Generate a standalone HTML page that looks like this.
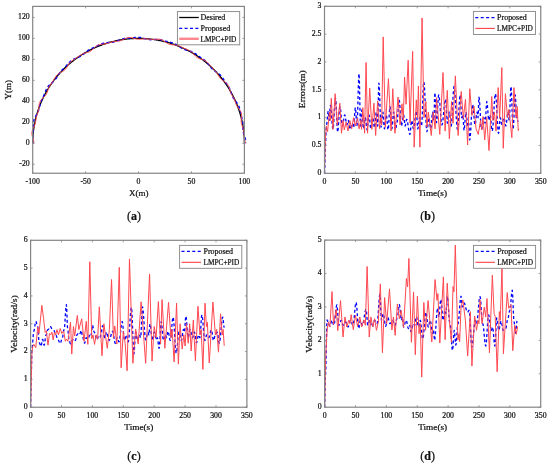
<!DOCTYPE html>
<html><head><meta charset="utf-8"><style>
html,body{margin:0;padding:0;background:#fff;}
svg{display:block;}
text{font-family:"Liberation Serif", "DejaVu Serif", serif;fill:#111;stroke:#111;stroke-width:0.22px;}
</style></head><body>
<svg width="550" height="467" viewBox="0 0 550 467">
<path d="M32.7,143.3 32.7,142.38 32.72,141.47 32.74,140.55 32.76,139.64 32.8,138.72 32.85,137.81 32.9,136.9 32.96,135.98 33.03,135.07 33.1,134.16 33.19,133.25 33.28,132.33 33.38,131.42 33.49,130.52 33.61,129.61 33.73,128.7 33.86,127.79 34,126.89 34.15,125.99 34.31,125.08 34.47,124.18 34.64,123.28 34.82,122.39 35.01,121.49 35.21,120.59 35.41,119.7 35.62,118.81 35.84,117.92 36.07,117.03 36.31,116.15 36.55,115.27 36.8,114.38 37.06,113.51 37.33,112.63 37.6,111.75 37.88,110.88 38.17,110.01 38.47,109.15 38.77,108.28 39.08,107.42 39.4,106.56 39.73,105.71 40.07,104.85 40.41,104 40.76,103.15 41.11,102.31 41.48,101.47 41.85,100.63 42.23,99.8 42.62,98.97 43.01,98.14 43.41,97.31 43.82,96.49 44.24,95.67 44.66,94.86 45.09,94.05 45.53,93.24 45.97,92.44 46.42,91.64 46.88,90.85 47.35,90.06 47.82,89.27 48.3,88.49 48.78,87.71 49.28,86.93 49.78,86.16 50.28,85.4 50.8,84.64 51.32,83.88 51.84,83.13 52.38,82.38 52.92,81.64 53.46,80.9 54.01,80.17 54.57,79.44 55.14,78.71 55.71,78 56.29,77.28 56.87,76.57 57.46,75.87 58.06,75.17 58.66,74.48 59.27,73.79 59.89,73.11 60.51,72.43 61.14,71.76 61.77,71.09 62.41,70.43 63.05,69.77 63.7,69.12 64.36,68.48 65.02,67.84 65.69,67.21 66.36,66.58 67.04,65.96 67.72,65.34 68.41,64.73 69.11,64.13 69.81,63.53 70.51,62.94 71.22,62.35 71.94,61.77 72.66,61.2 73.38,60.63 74.11,60.07 74.85,59.52 75.59,58.97 76.33,58.43 77.08,57.9 77.84,57.37 78.6,56.85 79.36,56.33 80.13,55.82 80.9,55.32 81.68,54.82 82.46,54.34 83.24,53.85 84.03,53.38 84.83,52.91 85.62,52.45 86.43,52 87.23,51.55 88.04,51.11 88.86,50.68 89.67,50.25 90.5,49.83 91.32,49.42 92.15,49.01 92.98,48.61 93.82,48.22 94.65,47.84 95.5,47.47 96.34,47.1 97.19,46.74 98.04,46.38 98.9,46.03 99.76,45.7 100.62,45.36 101.48,45.04 102.35,44.72 103.22,44.41 104.09,44.11 104.96,43.82 105.84,43.53 106.72,43.25 107.6,42.98 108.49,42.72 109.37,42.46 110.26,42.21 111.15,41.97 112.05,41.74 112.94,41.51 113.84,41.29 114.74,41.08 115.64,40.88 116.54,40.69 117.45,40.5 118.35,40.32 119.26,40.15 120.17,39.99 121.08,39.83 121.99,39.69 122.9,39.55 123.82,39.42 124.73,39.29 125.65,39.18 126.57,39.07 127.49,38.97 128.4,38.88 129.32,38.79 130.25,38.72 131.17,38.65 132.09,38.59 133.01,38.54 133.93,38.5 134.86,38.46 135.78,38.43 136.7,38.41 137.63,38.4 138.55,38.4 139.47,38.4 140.4,38.41 141.32,38.43 142.24,38.46 143.17,38.5 144.09,38.54 145.01,38.59 145.93,38.65 146.85,38.72 147.78,38.79 148.7,38.88 149.61,38.97 150.53,39.07 151.45,39.18 152.37,39.29 153.28,39.42 154.2,39.55 155.11,39.69 156.02,39.83 156.93,39.99 157.84,40.15 158.75,40.32 159.65,40.5 160.56,40.69 161.46,40.88 162.36,41.08 163.26,41.29 164.16,41.51 165.05,41.74 165.95,41.97 166.84,42.21 167.73,42.46 168.61,42.72 169.5,42.98 170.38,43.25 171.26,43.53 172.14,43.82 173.01,44.11 173.88,44.41 174.75,44.72 175.62,45.04 176.48,45.36 177.34,45.7 178.2,46.03 179.06,46.38 179.91,46.74 180.76,47.1 181.6,47.47 182.45,47.84 183.28,48.22 184.12,48.61 184.95,49.01 185.78,49.42 186.6,49.83 187.43,50.25 188.24,50.68 189.06,51.11 189.87,51.55 190.67,52 191.47,52.45 192.27,52.91 193.07,53.38 193.86,53.85 194.64,54.34 195.42,54.82 196.2,55.32 196.97,55.82 197.74,56.33 198.5,56.85 199.26,57.37 200.02,57.9 200.77,58.43 201.51,58.97 202.25,59.52 202.99,60.07 203.72,60.63 204.44,61.2 205.16,61.77 205.88,62.35 206.59,62.94 207.29,63.53 207.99,64.13 208.69,64.73 209.38,65.34 210.06,65.96 210.74,66.58 211.41,67.21 212.08,67.84 212.74,68.48 213.4,69.12 214.05,69.77 214.69,70.43 215.33,71.09 215.96,71.76 216.59,72.43 217.21,73.11 217.83,73.79 218.44,74.48 219.04,75.17 219.64,75.87 220.23,76.57 220.81,77.28 221.39,78 221.96,78.71 222.53,79.44 223.09,80.17 223.64,80.9 224.18,81.64 224.72,82.38 225.26,83.13 225.78,83.88 226.3,84.64 226.82,85.4 227.32,86.16 227.82,86.93 228.32,87.71 228.8,88.49 229.28,89.27 229.75,90.06 230.22,90.85 230.68,91.64 231.13,92.44 231.57,93.24 232.01,94.05 232.44,94.86 232.86,95.67 233.28,96.49 233.69,97.31 234.09,98.14 234.48,98.97 234.87,99.8 235.25,100.63 235.62,101.47 235.99,102.31 236.34,103.15 236.69,104 237.03,104.85 237.37,105.71 237.7,106.56 238.02,107.42 238.33,108.28 238.63,109.15 238.93,110.01 239.22,110.88 239.5,111.75 239.77,112.63 240.04,113.51 240.3,114.38 240.55,115.27 240.79,116.15 241.03,117.03 241.26,117.92 241.48,118.81 241.69,119.7 241.89,120.59 242.09,121.49 242.28,122.39 242.46,123.28 242.63,124.18 242.79,125.08 242.95,125.99 243.1,126.89 243.24,127.79 243.37,128.7 243.49,129.61 243.61,130.52 243.72,131.42 243.82,132.33 243.91,133.25 244,134.16 244.07,135.07 244.14,135.98 244.2,136.9 244.25,137.81 244.3,138.72 244.34,139.64 244.36,140.55 244.38,141.47 244.4,142.38 244.4,143.3" stroke="#000" stroke-width="1.3" fill="none" stroke-linejoin="round"/>
<path d="M33.15,143.3 33.07,142.39 32.97,141.47 32.86,140.56 32.76,139.64 32.68,138.72 32.63,137.8 32.61,136.88 32.63,135.96 32.68,135.04 32.76,134.13 32.86,133.21 32.96,132.3 33.07,131.39 33.16,130.48 33.23,129.56 33.28,128.64 33.31,127.71 33.32,126.78 33.32,125.85 33.32,124.91 33.33,123.97 33.37,123.04 33.46,122.11 33.59,121.19 33.79,120.28 34.06,119.39 34.38,118.52 34.77,117.66 35.21,116.81 35.68,115.98 36.18,115.16 36.67,114.35 37.15,113.53 37.61,112.71 38.03,111.89 38.4,111.05 38.72,110.2 38.99,109.33 39.23,108.44 39.44,107.55 39.63,106.65 39.82,105.74 40.01,104.83 40.23,103.93 40.48,103.04 40.76,102.16 41.08,101.3 41.43,100.44 41.81,99.61 42.2,98.77 42.61,97.95 43.02,97.12 43.42,96.29 43.8,95.46 44.17,94.61 44.52,93.75 44.86,92.88 45.19,92.01 45.52,91.14 45.87,90.27 46.24,89.41 46.65,88.58 47.11,87.77 47.62,86.99 48.19,86.25 48.81,85.54 49.47,84.87 50.17,84.22 50.9,83.6 51.64,82.99 52.38,82.39 53.1,81.77 53.8,81.15 54.45,80.49 55.07,79.81 55.64,79.1 56.18,78.36 56.68,77.59 57.16,76.8 57.62,76 58.09,75.19 58.57,74.39 59.06,73.61 59.59,72.84 60.14,72.09 60.73,71.38 61.34,70.69 61.98,70.02 62.64,69.37 63.3,68.73 63.97,68.09 64.64,67.44 65.29,66.79 65.93,66.12 66.56,65.44 67.18,64.74 67.8,64.04 68.42,63.35 69.05,62.66 69.71,61.99 70.39,61.36 71.11,60.76 71.86,60.21 72.66,59.72 73.49,59.27 74.35,58.86 75.23,58.49 76.12,58.15 77.02,57.81 77.92,57.48 78.79,57.13 79.65,56.76 80.48,56.34 81.27,55.89 82.04,55.39 82.78,54.84 83.5,54.26 84.2,53.66 84.9,53.04 85.61,52.42 86.32,51.8 87.05,51.21 87.79,50.66 88.57,50.13 89.36,49.65 90.17,49.2 91,48.78 91.84,48.39 92.69,48.01 93.54,47.64 94.39,47.26 95.23,46.87 96.07,46.47 96.9,46.05 97.72,45.62 98.55,45.18 99.38,44.75 100.22,44.33 101.06,43.94 101.93,43.58 102.81,43.28 103.71,43.03 104.63,42.83 105.57,42.69 106.51,42.6 107.47,42.54 108.43,42.51 109.38,42.49 110.33,42.46 111.27,42.4 112.2,42.31 113.11,42.18 114.01,41.99 114.89,41.74 115.77,41.45 116.64,41.12 117.5,40.76 118.37,40.39 119.24,40.02 120.11,39.66 121,39.34 121.89,39.05 122.79,38.81 123.71,38.62 124.62,38.47 125.55,38.36 126.48,38.27 127.4,38.21 128.33,38.15 129.26,38.09 130.19,38.02 131.12,37.93 132.04,37.83 132.97,37.71 133.89,37.6 134.82,37.48 135.75,37.38 136.68,37.31 137.62,37.28 138.55,37.3 139.48,37.38 140.41,37.51 141.34,37.69 142.26,37.92 143.18,38.18 144.09,38.46 145,38.74 145.91,39.01 146.81,39.25 147.72,39.45 148.63,39.6 149.54,39.69 150.46,39.73 151.38,39.72 152.32,39.67 153.26,39.6 154.2,39.52 155.15,39.44 156.1,39.39 157.04,39.37 157.98,39.39 158.92,39.46 159.84,39.59 160.76,39.76 161.66,39.97 162.56,40.21 163.46,40.47 164.35,40.74 165.24,41 166.14,41.26 167.04,41.5 167.94,41.73 168.84,41.95 169.75,42.16 170.66,42.38 171.56,42.61 172.46,42.87 173.34,43.16 174.21,43.5 175.06,43.88 175.89,44.32 176.7,44.8 177.5,45.31 178.27,45.86 179.04,46.41 179.81,46.97 180.58,47.5 181.36,48.01 182.15,48.47 182.97,48.89 183.81,49.26 184.68,49.57 185.56,49.85 186.47,50.09 187.39,50.32 188.31,50.54 189.24,50.78 190.15,51.03 191.05,51.33 191.93,51.66 192.79,52.05 193.61,52.48 194.41,52.95 195.19,53.46 195.95,54 196.7,54.56 197.44,55.12 198.18,55.68 198.93,56.23 199.68,56.77 200.44,57.3 201.21,57.82 201.99,58.33 202.76,58.85 203.52,59.38 204.27,59.93 205,60.51 205.7,61.12 206.37,61.77 207,62.45 207.6,63.17 208.18,63.91 208.74,64.67 209.29,65.44 209.83,66.2 210.39,66.95 210.97,67.66 211.58,68.35 212.23,68.99 212.92,69.6 213.64,70.17 214.4,70.7 215.19,71.22 215.99,71.73 216.8,72.24 217.6,72.76 218.38,73.31 219.13,73.88 219.84,74.49 220.51,75.15 221.13,75.83 221.72,76.56 222.26,77.31 222.79,78.08 223.29,78.86 223.78,79.65 224.28,80.43 224.78,81.21 225.29,81.98 225.82,82.74 226.35,83.49 226.9,84.24 227.44,84.99 227.97,85.75 228.48,86.52 228.97,87.31 229.42,88.11 229.83,88.95 230.19,89.8 230.53,90.67 230.83,91.56 231.11,92.45 231.38,93.35 231.66,94.24 231.95,95.11 232.28,95.97 232.65,96.8 233.07,97.61 233.53,98.4 234.05,99.17 234.6,99.92 235.18,100.66 235.78,101.4 236.37,102.15 236.95,102.9 237.5,103.68 238.01,104.47 238.47,105.29 238.87,106.13 239.21,106.99 239.5,107.87 239.75,108.77 239.96,109.67 240.15,110.58 240.33,111.5 240.51,112.41 240.71,113.31 240.91,114.21 241.14,115.1 241.38,115.99 241.62,116.88 241.87,117.77 242.11,118.66 242.33,119.55 242.52,120.46 242.67,121.37 242.78,122.28 242.84,123.21 242.87,124.14 242.87,125.07 242.85,126 242.82,126.93 242.81,127.86 242.81,128.78 242.86,129.69 242.95,130.6 243.09,131.49 243.29,132.39 243.54,133.28 243.82,134.17 244.13,135.06 244.45,135.96 244.77,136.86 245.06,137.77 245.31,138.68 245.51,139.6 245.65,140.52 245.73,141.45 245.74,142.37 245.7,143.3" stroke="#0000ff" stroke-width="1.3" fill="none" stroke-linejoin="round" stroke-dasharray="3,2.4"/>
<path d="M33.73,143.3 33.76,142.39 33.71,141.49 33.59,140.58 33.39,139.66 33.14,138.74 32.86,137.81 32.56,136.88 32.29,135.94 32.07,134.99 31.93,134.05 31.88,133.12 31.94,132.19 32.1,131.28 32.36,130.38 32.7,129.49 33.1,128.61 33.53,127.74 33.96,126.88 34.36,126.02 34.72,125.16 35.03,124.29 35.28,123.41 35.48,122.52 35.63,121.62 35.76,120.72 35.88,119.81 36.02,118.9 36.18,118 36.37,117.11 36.61,116.23 36.88,115.36 37.18,114.49 37.5,113.63 37.8,112.77 38.09,111.91 38.34,111.03 38.54,110.14 38.69,109.22 38.81,108.29 38.88,107.35 38.95,106.39 39.03,105.44 39.14,104.49 39.32,103.56 39.57,102.67 39.91,101.8 40.35,100.98 40.89,100.21 41.5,99.47 42.18,98.76 42.89,98.08 43.61,97.41 44.31,96.73 44.96,96.04 45.56,95.32 46.09,94.58 46.54,93.79 46.93,92.97 47.26,92.11 47.56,91.24 47.85,90.35 48.14,89.46 48.45,88.58 48.81,87.72 49.21,86.89 49.66,86.09 50.15,85.31 50.67,84.55 51.21,83.81 51.75,83.06 52.28,82.31 52.79,81.55 53.28,80.77 53.75,79.97 54.2,79.16 54.65,78.34 55.12,77.53 55.61,76.73 56.14,75.97 56.73,75.26 57.39,74.6 58.11,74 58.89,73.46 59.72,72.96 60.59,72.5 61.46,72.05 62.32,71.61 63.15,71.14 63.94,70.63 64.66,70.07 65.31,69.44 65.91,68.75 66.45,68 66.94,67.2 67.42,66.36 67.89,65.52 68.37,64.69 68.89,63.88 69.45,63.12 70.07,62.41 70.73,61.77 71.45,61.18 72.2,60.64 72.99,60.13 73.79,59.65 74.59,59.18 75.38,58.7 76.16,58.2 76.93,57.68 77.68,57.14 78.42,56.59 79.17,56.04 79.92,55.51 80.69,55 81.49,54.53 82.32,54.11 83.18,53.75 84.07,53.43 84.98,53.16 85.9,52.92 86.82,52.68 87.72,52.42 88.6,52.13 89.45,51.77 90.25,51.35 91.02,50.85 91.75,50.27 92.45,49.63 93.14,48.95 93.82,48.24 94.52,47.54 95.23,46.87 95.97,46.26 96.76,45.72 97.58,45.27 98.44,44.92 99.34,44.65 100.27,44.46 101.21,44.32 102.16,44.22 103.11,44.12 104.06,44.02 104.99,43.88 105.9,43.71 106.8,43.5 107.69,43.26 108.57,42.98 109.44,42.7 110.32,42.43 111.21,42.17 112.1,41.95 113.01,41.77 113.92,41.63 114.84,41.53 115.77,41.45 116.69,41.37 117.61,41.28 118.52,41.16 119.41,40.98 120.3,40.74 121.18,40.43 122.05,40.06 122.92,39.65 123.79,39.21 124.66,38.76 125.55,38.35 126.44,37.99 127.35,37.71 128.27,37.53 129.21,37.45 130.15,37.49 131.09,37.61 132.04,37.82 132.99,38.08 133.93,38.36 134.86,38.64 135.79,38.88 136.71,39.08 137.63,39.21 138.55,39.27 139.47,39.27 140.38,39.22 141.3,39.13 142.22,39.03 143.15,38.94 144.07,38.87 145,38.84 145.92,38.85 146.84,38.91 147.76,38.99 148.67,39.1 149.59,39.22 150.5,39.32 151.42,39.4 152.35,39.44 153.28,39.44 154.22,39.4 155.17,39.33 156.12,39.26 157.07,39.2 158.02,39.18 158.96,39.21 159.89,39.33 160.8,39.54 161.69,39.85 162.55,40.25 163.4,40.73 164.22,41.27 165.03,41.84 165.83,42.4 166.63,42.95 167.44,43.43 168.27,43.85 169.13,44.19 170,44.44 170.9,44.61 171.83,44.73 172.77,44.81 173.72,44.87 174.67,44.94 175.62,45.05 176.55,45.2 177.46,45.4 178.35,45.67 179.22,46 180.07,46.36 180.9,46.76 181.74,47.17 182.57,47.58 183.4,47.97 184.25,48.34 185.11,48.69 185.98,49.03 186.85,49.35 187.72,49.69 188.58,50.05 189.42,50.45 190.22,50.91 190.99,51.44 191.72,52.03 192.41,52.69 193.06,53.39 193.69,54.12 194.31,54.86 194.93,55.58 195.58,56.27 196.25,56.9 196.98,57.45 197.75,57.93 198.57,58.34 199.45,58.69 200.36,58.99 201.3,59.26 202.24,59.54 203.17,59.84 204.07,60.18 204.94,60.59 205.75,61.06 206.51,61.6 207.21,62.21 207.87,62.87 208.49,63.57 209.08,64.29 209.67,65.02 210.26,65.74 210.87,66.44 211.5,67.12 212.14,67.78 212.8,68.42 213.47,69.05 214.14,69.69 214.78,70.34 215.41,71.02 215.99,71.73 216.54,72.48 217.04,73.26 217.52,74.06 217.97,74.88 218.42,75.69 218.89,76.49 219.38,77.26 219.93,77.99 220.53,78.67 221.2,79.3 221.93,79.89 222.71,80.44 223.53,80.98 224.36,81.51 225.18,82.06 225.97,82.63 226.7,83.26 227.35,83.94 227.92,84.68 228.4,85.47 228.79,86.32 229.12,87.21 229.4,88.13 229.64,89.06 229.88,89.98 230.13,90.9 230.42,91.79 230.74,92.65 231.11,93.49 231.53,94.3 231.97,95.1 232.44,95.89 232.91,96.67 233.37,97.47 233.8,98.27 234.2,99.1 234.55,99.94 234.88,100.79 235.18,101.66 235.47,102.53 235.78,103.39 236.1,104.24 236.47,105.07 236.89,105.89 237.36,106.69 237.88,107.47 238.44,108.24 239.02,109.02 239.59,109.79 240.13,110.59 240.62,111.41 241.02,112.25 241.33,113.13 241.54,114.03 241.64,114.96 241.66,115.92 241.6,116.89 241.5,117.86 241.38,118.83 241.28,119.8 241.21,120.74 241.2,121.68 241.26,122.59 241.4,123.49 241.61,124.37 241.88,125.24 242.18,126.11 242.51,126.98 242.83,127.85 243.12,128.73 243.38,129.62 243.58,130.52 243.74,131.42 243.86,132.33 243.94,133.24 244,134.16 244.07,135.07 244.15,135.98 244.26,136.89 244.41,137.8 244.59,138.71 244.78,139.62 244.99,140.54 245.18,141.46 245.33,142.38 245.43,143.3" stroke="#ff4850" stroke-width="1.0" fill="none" stroke-linejoin="round"/>
<path d="M324.5,173.35 324.81,166.39 325.12,152.47 325.43,145.51 325.74,140.64 326.04,130.89 326.35,126.02 326.67,125.01 326.99,122.26 327.31,118.5 327.63,114.74 327.95,111.99 328.27,110.98 328.7,115.72 329.13,120.45 329.46,118.25 329.78,112.93 330.11,107.62 330.43,105.42 330.75,106.33 331.06,108.92 331.38,112.81 331.7,117.39 332.01,121.97 332.33,125.85 332.65,128.45 332.96,129.36 333.29,128.17 333.61,124.79 333.94,119.74 334.26,113.77 334.59,107.8 334.91,102.74 335.24,99.36 335.56,98.18 335.91,100.45 336.26,106.67 336.61,115.16 336.96,123.65 337.31,129.87 337.66,132.14 337.99,130.88 338.31,127.32 338.64,122.19 338.97,116.49 339.29,111.35 339.62,107.8 339.95,106.53 340.26,107.27 340.56,109.38 340.87,112.55 341.18,116.27 341.49,120 341.8,123.17 342.11,125.28 342.42,126.02 342.74,125.47 343.07,123.92 343.4,121.69 343.72,119.21 344.05,116.98 344.38,115.43 344.7,114.88 345.01,115.38 345.32,116.77 345.63,118.78 345.94,121.01 346.25,123.02 346.56,124.41 346.87,124.91 347.22,124.25 347.58,122.68 347.93,121.1 348.29,120.45 348.65,121.3 349,123.53 349.36,126.28 349.72,128.51 350.08,129.36 350.43,128.95 350.78,127.83 351.13,126.3 351.48,124.77 351.83,123.65 352.18,123.23 352.52,123.89 352.86,125.46 353.2,127.04 353.54,127.69 353.85,126.35 354.16,122.68 354.47,117.67 354.77,112.66 355.08,108.99 355.39,107.64 355.7,109.4 356.01,113.99 356.32,119.67 356.63,124.26 356.94,126.02 357.29,122.51 357.64,112.93 357.99,99.85 358.34,86.76 358.69,77.18 359.04,73.68 359.41,81.34 359.78,99.85 360.15,118.35 360.52,126.02 360.86,123.65 361.2,117.95 361.54,112.24 361.88,109.87 362.19,111.68 362.5,116.41 362.81,122.26 363.12,127 363.43,128.8 363.73,128.06 364.04,126.02 364.35,123.23 364.66,120.45 364.97,118.41 365.28,117.67 365.59,118.49 365.9,120.73 366.21,123.79 366.51,126.85 366.82,129.1 367.13,129.92 367.44,128.91 367.75,126.16 368.06,122.4 368.37,118.64 368.68,115.89 368.99,114.88 369.29,115.82 369.6,118.36 369.91,121.84 370.22,125.32 370.53,127.87 370.84,128.8 371.15,128.06 371.46,126.02 371.77,123.23 372.07,120.45 372.38,118.41 372.69,117.67 373,118.34 373.31,120.17 373.62,122.68 373.93,125.18 374.24,127.02 374.55,127.69 374.86,126.65 375.16,123.79 375.47,119.89 375.78,116 376.09,113.14 376.4,112.1 376.71,114.14 377.02,119.06 377.33,123.98 377.64,126.02 377.94,119.74 378.25,104.58 378.56,89.42 378.87,83.14 379.18,85.32 379.49,91.42 379.8,100.24 380.11,110.03 380.42,118.85 380.73,124.95 381.03,127.13 381.34,126.13 381.65,123.37 381.96,119.62 382.27,115.86 382.58,113.11 382.89,112.1 383.2,113.69 383.51,117.87 383.81,123.03 384.12,127.21 384.43,128.8 384.74,127.87 385.05,125.32 385.36,121.84 385.67,118.36 385.98,115.82 386.29,114.88 386.59,115.89 386.9,118.64 387.21,122.4 387.52,126.16 387.83,128.91 388.14,129.92 388.45,128.35 388.76,124.07 389.07,118.22 389.38,112.38 389.68,108.1 389.99,106.53 390.3,108.02 390.61,112.1 390.92,117.67 391.23,123.23 391.54,127.31 391.85,128.8 392.16,127.68 392.46,124.63 392.77,120.45 393.08,116.27 393.39,113.22 393.7,112.1 394.01,113.29 394.32,116.55 394.63,121.01 394.94,125.46 395.24,128.72 395.55,129.92 395.86,128.94 396.17,126.58 396.48,124.21 396.79,123.23 397.1,122.37 397.41,119.89 397.72,116.19 398.02,111.82 398.33,107.45 398.64,103.75 398.95,101.27 399.26,100.4 399.61,102.12 399.96,106.81 400.31,113.21 400.66,119.62 401.01,124.3 401.36,126.02 401.68,125.47 402,123.92 402.31,121.69 402.63,119.21 402.95,116.98 403.27,115.43 403.59,114.88 403.89,115.95 404.2,118.73 404.51,122.17 404.82,124.96 405.13,126.02 405.44,125.38 405.75,123.71 406.06,121.65 406.37,119.98 406.68,119.34 407,119.71 407.32,120.77 407.64,122.44 407.96,124.53 408.28,126.85 408.6,129.18 408.92,131.27 409.25,132.94 409.57,134 409.89,134.37 410.23,133.04 410.58,129.56 410.93,125.26 411.27,121.78 411.62,120.45 411.93,121.01 412.24,122.54 412.54,124.63 412.85,126.72 413.16,128.24 413.47,128.8 413.79,128.27 414.1,126.72 414.42,124.35 414.73,121.44 415.05,118.35 415.37,115.44 415.68,113.07 416,111.52 416.31,110.98 416.68,113.59 417.06,119.89 417.43,126.19 417.8,128.8 418.11,128.06 418.41,126.02 418.72,123.23 419.03,120.45 419.34,118.41 419.65,117.67 419.96,118.23 420.27,119.75 420.58,121.84 420.89,123.93 421.19,125.46 421.5,126.02 421.83,123.84 422.16,117.74 422.48,108.92 422.81,99.13 423.14,90.31 423.46,84.21 423.79,82.03 424.1,83.24 424.42,86.76 424.73,92.24 425.05,99.15 425.37,106.81 425.68,114.47 426,121.37 426.31,126.86 426.63,130.37 426.94,131.59 427.27,130.65 427.6,128.11 427.93,124.63 428.26,121.15 428.59,118.6 428.92,117.67 429.23,118.41 429.54,120.45 429.84,123.23 430.15,126.02 430.46,128.06 430.77,128.8 431.08,127.68 431.39,124.63 431.7,120.45 432.01,116.27 432.32,113.22 432.62,112.1 432.93,113.32 433.24,116.27 433.55,119.23 433.86,120.45 434.19,113.49 434.52,99.57 434.85,92.61 435.2,95.48 435.54,103 435.89,112.29 436.23,119.81 436.58,122.68 436.93,120.81 437.28,115.72 437.63,108.76 437.98,101.8 438.33,96.7 438.68,94.84 439,95.57 439.32,97.71 439.64,101.03 439.97,105.23 440.29,109.87 440.61,114.52 440.93,118.71 441.25,122.03 441.57,124.17 441.89,124.91 442.22,124.39 442.56,122.87 442.89,120.49 443.22,117.42 443.55,113.92 443.88,110.28 444.21,106.78 444.54,103.71 444.88,101.32 445.21,99.81 445.54,99.29 445.86,100.9 446.18,105.28 446.5,111.26 446.82,117.25 447.13,121.63 447.45,123.23 447.76,122.49 448.07,120.45 448.38,117.67 448.69,114.88 449,112.84 449.31,112.1 449.62,113.03 449.93,115.58 450.23,119.06 450.54,122.54 450.85,125.09 451.16,126.02 451.48,124.83 451.81,121.39 452.13,116.14 452.45,109.68 452.77,102.82 453.1,96.37 453.42,91.11 453.74,87.68 454.06,86.48 454.37,87.35 454.68,89.89 454.99,93.88 455.3,99.02 455.61,104.87 455.92,110.97 456.23,116.83 456.54,121.96 456.85,125.96 457.15,128.49 457.46,129.36 457.8,128.05 458.14,124.3 458.48,118.7 458.82,112.1 459.16,105.49 459.5,99.89 459.84,96.15 460.18,94.84 460.55,98.18 460.92,106.25 461.29,114.32 461.66,117.67 461.97,117.26 462.28,116.27 462.59,115.29 462.9,114.88 463.27,118.78 463.64,126.58 464.01,130.47 464.34,129.24 464.67,125.88 465,121.29 465.33,116.69 465.66,113.33 465.99,112.1 466.3,113.03 466.61,115.58 466.92,119.06 467.23,122.54 467.53,125.09 467.84,126.02 468.15,125.32 468.46,123.93 468.77,123.23 469.1,127.41 469.43,135.76 469.76,139.94 470.07,138.87 470.38,135.77 470.68,131.03 470.99,125.22 471.3,119.03 471.61,113.21 471.92,108.47 472.23,105.38 472.54,104.3 472.86,105.09 473.17,107.32 473.49,110.66 473.81,114.6 474.12,118.55 474.44,121.89 474.76,124.12 475.07,124.91 475.41,124.05 475.75,121.7 476.09,118.5 476.43,115.3 476.77,112.96 477.11,112.1 477.42,113.49 477.73,116.27 478.04,117.67 478.35,112.52 478.66,102.21 478.96,97.06 479.28,98.29 479.6,101.79 479.91,107.03 480.23,113.21 480.55,119.39 480.86,124.63 481.18,128.13 481.5,129.36 481.84,128.78 482.19,127.16 482.53,124.81 482.87,122.21 483.22,119.87 483.56,118.25 483.91,117.67 484.22,118.48 484.52,120.45 484.83,122.42 485.14,123.23 485.48,121.16 485.81,115.73 486.14,109.02 486.48,103.59 486.81,101.52 487.15,102.79 487.49,106.25 487.83,110.98 488.17,115.72 488.51,119.18 488.85,120.45 489.16,119.64 489.47,117.67 489.78,115.7 490.09,114.88 490.44,115.96 490.79,118.92 491.14,122.96 491.49,126.99 491.84,129.95 492.19,131.03 492.51,130.12 492.83,127.47 493.15,123.34 493.47,118.14 493.79,112.38 494.11,106.61 494.44,101.41 494.76,97.29 495.08,94.64 495.4,93.72 495.71,94.69 496.03,97.5 496.34,101.87 496.66,107.38 496.97,113.49 497.29,119.6 497.61,125.11 497.92,129.48 498.24,132.29 498.55,133.26 498.9,131.77 499.24,127.87 499.59,123.05 499.93,119.16 500.28,117.67 500.59,118.3 500.9,119.98 501.21,122.04 501.52,123.71 501.82,124.35 502.18,123.9 502.53,122.68 502.88,121.01 503.23,119.34 503.58,118.11 503.93,117.67 504.24,118.23 504.56,119.75 504.88,121.84 505.2,123.93 505.52,125.46 505.84,126.02 506.15,125.33 506.46,123.4 506.77,120.61 507.08,117.51 507.39,114.72 507.69,112.79 508,112.1 508.31,113.32 508.62,116.27 508.93,119.23 509.24,120.45 509.59,117.21 509.93,108.72 510.28,98.22 510.62,89.73 510.97,86.48 511.32,89.36 511.67,97.2 512.02,107.92 512.37,118.64 512.72,126.49 513.07,129.36 513.38,127.65 513.69,122.86 514,115.94 514.31,108.26 514.61,101.34 514.92,96.55 515.23,94.84 515.59,98.18 515.94,106.25 516.3,114.32 516.65,117.67 516.96,118.04 517.27,119.01 517.58,120.22 517.89,121.19 518.2,121.56" stroke="#0000ff" stroke-width="1.3" fill="none" stroke-linejoin="round" stroke-dasharray="3,2.4"/>
<path d="M324.5,173.35 325.3,139.94 326.35,126.02 327.59,131.59 329.44,112.1 330.37,120.45 331.3,98.18 332.96,129.36 335.13,93.72 337.29,124.91 339.82,103.19 341.49,133.26 343.04,120.45 344.27,129.92 346.12,122.12 347.98,131.03 349.83,120.45 351.69,128.8 353.54,117.67 355.39,126.02 357.56,118.22 359.1,128.8 360.71,120.45 361.57,129.36 362.81,107.64 364.6,133.26 366.08,62.54 367.56,133.26 369.73,88.15 371.83,129.36 373.93,103.19 375.66,135.49 377.64,100.96 379.49,128.8 380.73,117.67 381.65,124.91 383.2,36.93 385.3,127.13 388.45,78.69 391.04,131.03 392.77,88.71 394.94,133.26 398.02,97.06 400.06,124.91 401.98,103.75 403.28,120.45 404.57,77.02 406.06,104.3 408.16,60.31 410.07,123.23 412.67,51.4 414.15,147.18 416.31,99.85 417.49,117.67 418.41,85.93 419.9,147.18 422.06,17.99 423.98,117.67 425.89,101.52 426.94,127.13 428.3,112.1 431.27,135.49 433.24,112.1 435.1,128.8 436.58,97.62 439.79,134.37 443,72.56 445.11,131.03 447.27,90.38 449.37,138.83 451.53,101.52 453.01,123.23 455.36,75.9 458.14,135.49 461.23,91.5 463.33,118.22 465.5,99.29 467.6,144.95 469.76,88.71 471.92,115.44 474.02,106.53 476.06,128.8 478.28,134.37 480.51,120.45 481.74,129.92 482.98,116.55 484.71,139.94 486.69,117.67 488.97,150.52 491.75,96.51 492.87,120.45 494.41,112.1 496.02,131.03 498.18,87.6 499.66,118.22 501.82,67.55 503.25,148.29 505.41,93.72 507.57,117.67 508.93,109.31 511.83,137.71 513.94,87.6 516.04,117.67 517.27,106.53 518.2,130.47 518.88,128.8" stroke="#ff4850" stroke-width="1.0" fill="none" stroke-linejoin="round"/>
<path d="M30.6,407.25 30.91,393.34 31.22,379.43 31.56,364.12 31.9,348.82 32.23,347.62 32.56,344.37 32.89,339.91 33.22,335.46 33.55,332.2 33.88,331.01 34.19,330.36 34.51,328.57 34.83,326.14 35.15,323.71 35.47,321.92 35.79,321.27 36.12,321.7 36.46,322.81 36.79,324.18 37.13,325.3 37.46,325.72 37.82,327.34 38.18,331.59 38.54,336.83 38.89,341.08 39.25,342.7 39.59,343.04 39.92,343.95 40.25,345.06 40.59,345.97 40.92,346.31 41.25,345.65 41.59,343.91 41.92,341.76 42.26,340.02 42.59,339.36 42.9,339.91 43.21,341.38 43.52,343.18 43.83,344.64 44.13,345.2 44.45,344.51 44.77,342.63 45.09,340.05 45.41,337.48 45.73,335.59 46.05,334.9 46.37,334.55 46.69,333.58 47.01,332.26 47.33,330.94 47.65,329.97 47.97,329.62 48.3,329.47 48.64,329.04 48.97,328.43 49.31,327.75 49.64,327.13 49.98,326.71 50.31,326.56 50.62,326.71 50.93,327.13 51.24,327.75 51.55,328.43 51.86,329.04 52.17,329.47 52.48,329.62 52.8,329.72 53.12,330 53.44,330.35 53.76,330.62 54.08,330.73 54.41,331.13 54.73,332.17 55.05,333.46 55.37,334.51 55.69,334.9 56.03,335.15 56.36,335.85 56.7,336.85 57.03,337.97 57.37,338.97 57.7,339.67 58.04,339.91 58.35,340.09 58.66,340.59 58.97,341.32 59.28,342.12 59.58,342.85 59.89,343.35 60.2,343.53 60.52,343.21 60.84,342.35 61.16,341.17 61.48,339.98 61.8,339.12 62.12,338.8 62.45,338.19 62.78,336.5 63.11,334.21 63.44,331.91 63.77,330.23 64.1,329.62 64.42,328.38 64.75,324.9 65.08,319.88 65.4,314.31 65.73,309.29 66.06,305.82 66.38,304.58 66.71,308.2 67.03,316.96 67.36,325.71 67.68,329.34 67.99,330.43 68.3,333.28 68.61,336.81 68.92,339.66 69.22,340.75 69.55,341.2 69.87,342.28 70.2,343.36 70.52,343.81 70.89,343.32 71.26,342.14 71.64,340.96 72.01,340.47 72.35,340.31 72.7,339.89 73.04,339.38 73.39,338.96 73.74,338.8 74.07,338.96 74.4,339.38 74.74,339.89 75.07,340.31 75.41,340.47 75.71,339.94 76.02,338.55 76.33,336.83 76.64,335.44 76.95,334.9 77.27,334.74 77.59,334.28 77.91,333.65 78.23,333.03 78.55,332.57 78.87,332.4 79.26,332.68 79.65,333.24 80.04,333.51 80.41,332.75 80.78,331.22 81.15,330.45 81.49,331.14 81.82,332.95 82.15,335.19 82.49,337 82.82,337.69 83.18,338.22 83.54,339.61 83.9,341.33 84.25,342.72 84.61,343.25 84.93,342.72 85.26,341.33 85.58,339.61 85.9,338.22 86.22,337.69 86.53,337.78 86.84,338.04 87.15,338.38 87.46,338.73 87.77,338.99 88.07,339.08 88.42,338.71 88.77,337.69 89.12,336.3 89.47,334.9 89.83,333.89 90.18,333.51 90.5,333.86 90.83,334.56 91.16,334.9 91.47,333.48 91.78,330.04 92.09,326.59 92.4,325.17 92.71,325.63 93.02,326.91 93.33,328.64 93.64,330.38 93.95,331.66 94.25,332.12 94.58,332.42 94.9,333.26 95.23,334.53 95.55,336.02 95.88,337.51 96.2,338.77 96.53,339.62 96.85,339.91 97.2,339.57 97.54,338.66 97.89,337.55 98.23,336.64 98.58,336.3 98.89,336.5 99.2,336.99 99.51,337.48 99.82,337.69 100.13,337.33 100.45,336.29 100.76,334.7 101.08,332.74 101.4,330.67 101.71,328.71 102.03,327.12 102.34,326.08 102.66,325.72 103.05,328.02 103.44,332.61 103.83,334.9 104.14,335.6 104.45,336.99 104.76,337.69 105.07,337.31 105.38,336.3 105.69,334.9 106,333.51 106.31,332.5 106.61,332.12 106.92,332.44 107.23,333.34 107.54,334.7 107.85,336.3 108.16,337.89 108.47,339.25 108.78,340.15 109.09,340.47 109.41,340.28 109.73,339.74 110.05,338.89 110.37,337.79 110.69,336.53 111.01,335.23 111.33,333.97 111.65,332.87 111.97,332.02 112.29,331.47 112.61,331.29 112.94,331.74 113.27,333.04 113.61,334.98 113.94,337.27 114.27,339.56 114.6,341.5 114.93,342.8 115.27,343.25 115.58,342.88 115.88,341.86 116.19,340.47 116.5,339.08 116.81,338.06 117.12,337.69 117.43,337.97 117.74,338.73 118.05,339.77 118.36,340.82 118.66,341.58 118.97,341.86 119.3,341.36 119.62,339.92 119.94,337.67 120.26,334.84 120.58,331.71 120.9,328.57 121.22,325.74 121.54,323.49 121.87,322.05 122.19,321.55 122.52,322.49 122.86,325.11 123.19,328.9 123.53,333.11 123.87,336.91 124.2,339.53 124.54,340.47 124.84,340.1 125.15,339.08 125.46,337.69 125.77,336.3 126.08,335.28 126.39,334.9 126.7,335.37 127.01,336.64 127.32,338.38 127.63,340.12 127.94,341.4 128.24,341.86 128.56,341.02 128.87,338.57 129.19,334.75 129.5,329.94 129.82,324.61 130.14,319.28 130.45,314.47 130.77,310.65 131.08,308.2 131.4,307.36 131.71,309.13 132.03,314.16 132.35,321.7 132.66,330.59 132.98,339.48 133.3,347.02 133.61,352.06 133.93,353.83 134.28,351.75 134.62,346.33 134.97,339.62 135.31,334.19 135.66,332.12 135.97,332.68 136.28,334.21 136.59,336.3 136.9,338.38 137.21,339.91 137.51,340.47 137.82,340.1 138.13,339.08 138.44,337.69 138.75,336.3 139.06,335.28 139.37,334.9 139.68,335.31 139.99,336.3 140.29,337.28 140.6,337.69 140.91,335.62 141.22,329.97 141.53,322.24 141.84,314.52 142.15,308.87 142.46,306.8 142.78,307.61 143.1,309.96 143.42,313.63 143.74,318.24 144.06,323.36 144.39,328.47 144.71,333.09 145.03,336.75 145.35,339.1 145.67,339.91 146.01,339.53 146.34,338.45 146.68,336.88 147.01,335.15 147.35,333.59 147.68,332.51 148.02,332.12 148.33,332.82 148.64,334.21 148.95,334.9 149.28,332.12 149.61,326.56 149.94,323.77 150.28,324.6 150.62,326.92 150.97,330.27 151.31,333.98 151.66,337.33 152,339.64 152.35,340.47 152.66,339.91 152.96,338.38 153.27,336.3 153.58,334.21 153.89,332.68 154.2,332.12 154.55,332.64 154.9,334.07 155.25,336.02 155.6,337.97 155.95,339.39 156.3,339.91 156.63,339.36 156.96,338.24 157.29,337.69 157.65,338.7 158.01,341.34 158.37,344.61 158.72,347.25 159.08,348.26 159.39,346.94 159.7,343.23 160.01,337.88 160.32,331.93 160.63,326.58 160.94,322.87 161.25,321.55 161.56,322.49 161.88,325.11 162.2,328.9 162.52,333.11 162.83,336.91 163.15,339.53 163.47,340.47 163.78,340.1 164.09,339.08 164.4,337.69 164.71,336.3 165.02,335.28 165.32,334.9 165.63,335.31 165.94,336.3 166.25,337.28 166.56,337.69 166.93,336.75 167.3,334.49 167.67,332.22 168.04,331.29 168.36,331.74 168.68,333.02 169,334.86 169.31,336.9 169.63,338.74 169.95,340.02 170.27,340.47 170.58,339.77 170.89,337.74 171.19,334.63 171.5,330.81 171.81,326.75 172.12,322.94 172.43,319.83 172.74,317.8 173.05,317.1 173.37,317.98 173.69,320.55 174.01,324.55 174.33,329.59 174.66,335.18 174.98,340.77 175.3,345.81 175.62,349.82 175.94,352.38 176.26,353.27 176.59,352.46 176.93,350.17 177.26,346.74 177.59,342.7 177.92,338.65 178.26,335.22 178.59,332.93 178.92,332.12 179.23,332.44 179.54,333.34 179.85,334.7 180.16,336.3 180.47,337.89 180.77,339.25 181.08,340.15 181.39,340.47 181.7,339.92 182.01,338.37 182.32,336.14 182.63,333.67 182.94,331.44 183.25,329.89 183.56,329.34 183.86,330.04 184.17,331.43 184.48,332.12 184.82,329.76 185.16,324.05 185.5,318.35 185.84,315.98 186.18,317.06 186.51,320.07 186.85,324.42 187.18,329.25 187.52,333.6 187.85,336.61 188.19,337.69 188.5,337.13 188.81,335.6 189.12,333.51 189.43,331.43 189.74,329.9 190.04,329.34 190.35,329.66 190.66,330.56 190.97,331.92 191.28,333.51 191.59,335.11 191.9,336.47 192.21,337.37 192.52,337.69 192.83,337.31 193.13,336.3 193.44,334.9 193.75,333.51 194.06,332.5 194.37,332.12 194.72,332.83 195.07,334.77 195.42,337.41 195.77,340.05 196.12,341.99 196.47,342.7 196.79,342.31 197.11,341.23 197.42,339.67 197.74,337.93 198.06,336.37 198.38,335.29 198.7,334.9 199,335.31 199.31,336.3 199.62,337.28 199.93,337.69 200.25,336.16 200.57,331.98 200.89,326.28 201.21,320.58 201.53,316.4 201.85,314.87 202.18,315.64 202.52,317.87 202.86,321.27 203.19,325.45 203.53,329.89 203.87,334.07 204.2,337.48 204.54,339.7 204.88,340.47 205.19,340.1 205.49,339.08 205.8,337.69 206.11,336.3 206.42,335.28 206.73,334.9 207.04,335.09 207.35,335.6 207.66,336.3 207.97,336.99 208.28,337.5 208.58,337.69 208.9,337.45 209.22,336.78 209.53,335.74 209.85,334.47 210.16,333.12 210.48,331.84 210.8,330.81 211.11,330.13 211.43,329.9 211.78,330.6 212.13,332.54 212.48,335.18 212.83,337.83 213.18,339.76 213.53,340.47 213.84,340.1 214.15,339.08 214.46,337.69 214.76,336.3 215.07,335.28 215.38,334.9 215.69,334.72 216,334.21 216.31,333.51 216.62,332.82 216.93,332.31 217.24,332.12 217.58,332.87 217.92,334.9 218.26,337.69 218.6,340.47 218.94,342.51 219.28,343.25 219.59,342.72 219.9,341.18 220.22,338.74 220.53,335.61 220.85,332.04 221.16,328.31 221.48,324.74 221.79,321.61 222.11,319.17 222.42,317.63 222.74,317.1 223.11,318.65 223.48,322.38 223.85,326.12 224.22,327.67" stroke="#0000ff" stroke-width="1.3" fill="none" stroke-linejoin="round" stroke-dasharray="3,2.4"/>
<path d="M30.6,407.25 31.34,379.43 31.9,352.71 32.82,346.31 33.88,344.37 35.79,347.7 37.71,327.11 39,333.51 41.85,305.41 43.52,318.21 45.18,332.4 46.36,330.73 47.97,345.2 49.51,333.51 50.69,334.9 51.92,332.12 53.16,339.91 54.39,332.4 55.63,334.9 56.99,329.62 58.41,334.9 60.2,328.51 61.81,333.51 63.66,331.01 65.33,341.3 66.44,339.08 67.93,341.3 70.52,322.11 71.76,354.1 73.43,326.56 74.73,336.02 77.32,315.43 78.87,329.62 81.71,318.77 84,341.3 86.28,321.27 87.83,344.37 89.8,261.73 91.72,338.8 93.02,334.9 94.56,344.37 96.11,334.9 97.65,339.08 99.32,306.8 101.98,355.77 103.89,323.77 105.38,334.9 107.29,348.26 109.4,329.34 111.56,279.53 113.41,337.69 114.77,326 116.87,344.09 119.28,267.29 121.14,367.74 123.3,331.29 125.15,343.25 127.13,370.8 129.48,258.94 132.88,363.29 135.66,329.06 138.19,344.09 141.1,301.79 145.67,363.29 149.57,273.97 152.04,361.06 154.2,326.56 156.05,337.69 158.4,301.51 160.57,344.09 162.05,299.57 164.83,348.26 168.54,302.35 170.89,337.69 172.12,329.34 174.1,361.9 176.57,303.18 178.36,364.12 180.09,323.77 182.2,349.1 183.86,334.9 185.1,346.03 186.46,323.77 188.19,343.25 189.67,323.77 191.16,351.04 193.32,320.16 195.42,360.78 197.95,306.25 199.93,334.9 201.17,329.34 202.9,369.41 205,303.18 206.42,326.56 207.35,322.38 209.26,363.01 212.91,302.07 215.38,334.9 216.62,329.34 218.47,352.16 220.57,313.76 222.18,334.9 223.11,329.34 224.22,345.76" stroke="#ff4850" stroke-width="1.0" fill="none" stroke-linejoin="round"/>
<path d="M324.6,407.2 324.91,398.84 325.22,382.13 325.53,373.78 325.83,368.64 326.14,355.19 326.45,338.56 326.76,325.11 327.07,319.97 327.38,320.32 327.69,321.24 328,322.38 328.3,323.3 328.61,323.65 328.92,324.04 329.23,324.99 329.54,325.93 329.85,326.32 330.16,326.03 330.47,325.19 330.77,323.99 331.08,322.65 331.39,321.44 331.7,320.61 332.01,320.31 332.32,320.64 332.63,321.56 332.94,322.81 333.24,324.07 333.55,324.99 333.86,325.32 334.2,324.71 334.53,322.94 334.87,320.22 335.21,316.9 335.54,313.36 335.88,310.03 336.21,307.32 336.55,305.55 336.89,304.93 337.21,306.3 337.52,310.03 337.84,315.13 338.16,320.22 338.48,323.96 338.8,325.32 339.11,325.13 339.42,324.59 339.73,323.77 340.04,322.81 340.34,321.86 340.65,321.04 340.96,320.5 341.27,320.31 341.58,320.64 341.89,321.56 342.2,322.81 342.51,324.07 342.81,324.99 343.12,325.32 343.43,325.19 343.74,324.83 344.05,324.29 344.36,323.65 344.67,323.01 344.98,322.47 345.28,322.11 345.59,321.98 345.9,322.17 346.21,322.71 346.52,323.53 346.83,324.49 347.14,325.44 347.44,326.26 347.75,326.8 348.06,326.99 348.37,326.74 348.68,326.01 348.99,324.93 349.3,323.65 349.61,322.37 349.91,321.29 350.22,320.56 350.53,320.31 350.84,320.5 351.15,321.04 351.46,321.86 351.77,322.81 352.08,323.77 352.38,324.59 352.69,325.13 353,325.32 353.31,324.76 353.62,323.12 353.93,320.57 354.24,317.35 354.55,313.79 354.85,310.23 355.16,307.01 355.47,304.46 355.78,302.83 356.09,302.26 356.41,303.27 356.72,306.13 357.04,310.41 357.35,315.46 357.67,320.51 357.99,324.8 358.3,327.66 358.62,328.66 358.98,327.87 359.34,325.78 359.69,323.19 360.05,321.11 360.41,320.31 360.72,320.64 361.03,321.56 361.34,322.81 361.65,324.07 361.95,324.99 362.26,325.32 362.58,325.05 362.9,324.25 363.22,322.97 363.54,321.31 363.86,319.38 364.18,317.3 364.5,315.22 364.82,313.29 365.13,311.63 365.45,310.35 365.77,309.55 366.09,309.28 366.44,310.81 366.78,314.82 367.13,319.78 367.47,323.79 367.82,325.32 368.13,324.99 368.44,324.07 368.75,322.81 369.05,321.56 369.36,320.64 369.67,320.31 369.98,320.56 370.29,321.29 370.6,322.37 370.91,323.65 371.22,324.93 371.52,326.01 371.83,326.74 372.14,326.99 372.45,326.74 372.76,326.01 373.07,324.93 373.38,323.65 373.69,322.37 373.99,321.29 374.3,320.56 374.61,320.31 374.92,320.44 375.23,320.8 375.54,321.34 375.85,321.98 376.16,322.62 376.46,323.16 376.77,323.52 377.08,323.65 377.4,322.76 377.71,320.21 378.03,316.3 378.34,311.5 378.66,306.39 378.97,301.59 379.29,297.68 379.61,295.13 379.92,294.24 380.29,298.06 380.66,307.27 381.03,316.49 381.4,320.31 381.71,319.86 382.02,318.64 382.33,316.97 382.64,315.29 382.95,314.07 383.26,313.62 383.6,314.25 383.94,316.01 384.29,318.56 384.63,321.39 384.98,323.93 385.32,325.69 385.66,326.32 385.98,325.7 386.3,323.98 386.62,321.64 386.94,319.31 387.26,317.59 387.58,316.97 387.89,317.22 388.2,317.94 388.5,319.03 388.81,320.31 389.12,321.59 389.43,322.67 389.74,323.4 390.05,323.65 390.36,323.52 390.66,323.16 390.97,322.62 391.28,321.98 391.59,321.34 391.9,320.8 392.21,320.44 392.52,320.31 392.83,320.5 393.13,321.04 393.44,321.86 393.75,322.81 394.06,323.77 394.37,324.59 394.68,325.13 394.99,325.32 395.3,325 395.6,324.1 395.91,322.74 396.22,321.14 396.53,319.54 396.84,318.19 397.15,317.28 397.46,316.97 397.77,316.14 398.07,313.87 398.38,310.78 398.69,307.69 399,305.43 399.31,304.6 399.62,305.38 399.93,307.56 400.24,310.71 400.54,314.2 400.85,317.35 401.16,319.53 401.47,320.31 401.78,319.47 402.09,317.8 402.4,316.97 402.7,318.43 403.01,321.98 403.32,325.52 403.63,326.99 403.94,326.74 404.25,326.01 404.56,324.93 404.87,323.65 405.17,322.37 405.48,321.29 405.79,320.56 406.1,320.31 406.41,320.63 406.72,321.53 407.03,322.89 407.34,324.49 407.64,326.08 407.95,327.44 408.26,328.35 408.57,328.66 408.88,328.17 409.19,326.99 409.5,325.81 409.81,325.32 410.11,326.25 410.42,328.5 410.73,330.74 411.04,331.67 411.35,331.37 411.66,330.5 411.97,329.2 412.27,327.66 412.58,326.13 412.89,324.82 413.2,323.96 413.51,323.65 413.82,323.89 414.13,324.49 414.44,325.08 414.74,325.32 415.07,324.49 415.39,322.32 415.71,319.63 416.03,317.46 416.35,316.63 416.7,317.33 417.05,319.22 417.4,321.81 417.75,324.4 418.1,326.3 418.45,326.99 418.76,326.54 419.07,325.32 419.38,323.65 419.68,321.98 419.99,320.76 420.3,320.31 420.65,321.23 420.99,323.83 421.33,327.58 421.68,331.75 422.02,335.5 422.37,338.1 422.71,339.02 423.03,338.37 423.35,336.47 423.67,333.51 423.99,329.79 424.31,325.66 424.64,321.52 424.96,317.8 425.28,314.84 425.6,312.94 425.92,312.29 426.26,313.02 426.61,315.06 426.95,318 427.3,321.28 427.64,324.22 427.98,326.26 428.33,326.99 428.64,326.54 428.95,325.32 429.25,323.65 429.56,321.98 429.87,320.76 430.18,320.31 430.49,320.82 430.8,322.27 431.11,324.43 431.42,326.99 431.72,329.55 432.03,331.72 432.34,333.17 432.65,333.68 432.96,332.84 433.27,331.17 433.58,330.33 434.01,335.35 434.44,340.36 434.76,339.57 435.08,337.26 435.4,333.68 435.72,329.16 436.05,324.15 436.37,319.14 436.69,314.62 437.01,311.04 437.33,308.74 437.65,307.94 438.04,310.2 438.43,314.71 438.82,316.97 439.16,315.78 439.5,312.54 439.84,308.11 440.18,303.68 440.52,300.44 440.86,299.25 441.19,300.3 441.51,303.22 441.84,307.44 442.17,312.12 442.49,316.34 442.82,319.27 443.15,320.31 443.46,319.64 443.76,317.8 444.07,315.29 444.38,312.79 444.69,310.95 445,310.28 445.31,311.12 445.62,312.79 445.92,313.62 446.25,311.08 446.57,304.93 446.9,298.79 447.22,296.25 447.56,297.29 447.9,300.26 448.24,304.7 448.58,309.95 448.92,315.19 449.26,319.64 449.6,322.61 449.94,323.65 450.26,324.67 450.59,327.57 450.91,331.9 451.23,337.02 451.56,342.13 451.88,346.47 452.21,349.37 452.53,350.39 452.88,348.47 453.22,343.46 453.57,337.26 453.91,332.25 454.26,330.33 454.57,331.74 454.88,335.41 455.19,339.96 455.49,343.63 455.8,345.04 456.11,343.98 456.42,341.01 456.73,336.72 457.04,331.96 457.35,327.68 457.66,324.71 457.96,323.65 458.27,322.98 458.58,321.03 458.89,318 459.2,314.18 459.51,309.95 459.82,305.71 460.13,301.89 460.43,298.86 460.74,296.92 461.05,296.25 461.36,297.81 461.67,301.59 461.98,305.37 462.29,306.94 462.63,306.56 462.98,305.55 463.32,304.32 463.67,303.31 464.02,302.93 464.33,303.12 464.64,303.67 464.96,304.54 465.27,305.66 465.59,306.94 465.9,308.27 466.22,309.55 466.53,310.67 466.84,311.54 467.16,312.1 467.47,312.29 467.79,312.1 468.12,311.59 468.44,310.97 468.76,310.47 469.08,310.28 469.39,311.39 469.7,314.58 470,319.47 470.31,325.47 470.62,331.85 470.93,337.85 471.24,342.74 471.55,345.94 471.86,347.04 472.17,346.5 472.47,344.92 472.78,342.43 473.09,339.23 473.4,335.58 473.71,331.77 474.02,328.12 474.33,324.92 474.64,322.43 474.94,320.85 475.25,320.31 475.56,320.8 475.87,321.98 476.18,323.16 476.49,323.65 476.81,323.1 477.13,321.5 477.45,318.98 477.77,315.74 478.09,312.04 478.41,308.19 478.73,304.49 479.05,301.25 479.37,298.73 479.69,297.13 480.01,296.58 480.34,297.61 480.67,300.54 481,304.94 481.33,310.11 481.67,315.29 482,319.69 482.33,322.62 482.66,323.65 482.97,324.2 483.28,325.79 483.59,328.27 483.9,331.39 484.21,334.85 484.51,338.31 484.82,341.43 485.13,343.9 485.44,345.49 485.75,346.04 486.06,345.1 486.37,342.41 486.68,338.27 486.98,333.2 487.29,327.8 487.6,322.73 487.91,318.6 488.22,315.9 488.53,314.96 488.84,315.42 489.14,316.76 489.45,318.8 489.76,321.31 490.07,323.98 490.38,326.49 490.69,328.54 491,329.87 491.31,330.33 491.61,329.84 491.92,328.66 492.23,327.48 492.54,326.99 492.88,327.94 493.21,330.58 493.55,334.4 493.88,338.64 494.22,342.46 494.55,345.1 494.89,346.04 495.2,344.16 495.5,339.02 495.81,332 496.12,324.99 496.43,319.85 496.74,317.97 497.07,318.8 497.4,321.06 497.73,324.15 498.06,327.24 498.39,329.51 498.71,330.33 499.02,329.98 499.33,328.96 499.64,327.45 499.95,325.66 500.26,323.86 500.57,322.35 500.88,321.33 501.18,320.98 501.49,321.6 501.8,323.32 502.11,325.66 502.42,327.99 502.73,329.71 503.04,330.33 503.37,330.26 503.7,330.04 504.03,329.72 504.36,329.33 504.7,328.95 505.03,328.62 505.36,328.41 505.69,328.33 506.02,327.82 506.34,326.38 506.67,324.3 507,322 507.32,319.92 507.65,318.48 507.98,317.97 508.29,317.45 508.59,316.05 508.9,314.13 509.21,312.2 509.52,310.8 509.83,310.28 510.17,309.29 510.52,306.51 510.86,302.49 511.2,298.03 511.55,294 511.89,291.22 512.24,290.23 512.59,293.23 512.95,301.08 513.31,310.79 513.67,318.64 514.03,321.64 514.4,323.31 514.77,327.33 515.14,331.34 515.51,333.01 515.82,331.86 516.13,328.85 516.44,325.13 516.74,322.13 517.05,320.98" stroke="#0000ff" stroke-width="1.3" fill="none" stroke-linejoin="round" stroke-dasharray="3,2.4"/>
<path d="M324.6,407.2 325.59,358.74 327.07,330.67 328.37,321.98 329.85,326.99 332.01,291.57 333.49,324.32 334.79,316.97 336.27,309.28 337.75,330.67 340.53,300.59 343.06,337.02 344.98,316.97 346.83,326.99 348.68,320.31 349.91,323.65 351.15,314.63 353.31,329.67 355.47,315.29 357.57,326.32 359.79,316.97 361.65,326.99 363.93,319.97 365.35,325.32 367.14,266.5 369.24,337.02 370.91,316.97 372.76,326.99 374.61,318.64 376.46,330.33 378.32,321.98 380.35,283.88 382.45,352.73 384.61,297.58 386.65,323.65 389.49,288.89 391.9,330 393.44,316.97 395.17,335.35 397.39,303.93 399.31,318.64 401.16,310.28 403.57,327.33 406.41,278.53 407.64,286.89 408.88,258.48 411.41,342.37 413.57,291.9 415.3,354.73 417.4,296.25 419.07,333.68 420.3,323.65 421.72,377.12 423.82,302.6 425.55,330.33 428.08,300.59 431.79,342.03 435.06,279.54 436.97,300.26 437.9,293.57 439.81,343.03 443.39,276.86 445.12,339.69 447.22,283.21 449.32,320.31 451.48,342.37 453.03,286.55 453.95,291.9 455.31,245.11 457.9,340.03 458.89,333.68 459.63,341.7 461.05,306.94 462.9,299.92 465.37,320.31 467.66,356.07 470.37,311.62 471.92,366.09 474.64,315.96 476.49,330.33 478.03,320.31 478.96,323.65 480.01,299.92 482.04,323.65 484.27,307.27 485.75,316.97 486.98,298.58 489.45,352.73 492.36,275.19 494.08,313.62 495.2,316.3 497.17,371.77 499.33,311.62 500.26,320.31 501.99,266.5 503.41,353.73 507.24,292.57 508.72,308.28 511,304.6 512.79,350.72 514.71,325.32 516.25,334.34 517.73,326.32" stroke="#ff4850" stroke-width="1.0" fill="none" stroke-linejoin="round"/>
<path d="M32.7,173.25v-2.0M32.7,6.4v2.0M85.62,173.25v-2.0M85.62,6.4v2.0M138.55,173.25v-2.0M138.55,6.4v2.0M191.47,173.25v-2.0M191.47,6.4v2.0M244.4,173.25v-2.0M244.4,6.4v2.0M32.7,164.28h2.0M244.4,164.28h-2.0M32.7,143.3h2.0M244.4,143.3h-2.0M32.7,122.32h2.0M244.4,122.32h-2.0M32.7,101.34h2.0M244.4,101.34h-2.0M32.7,80.36h2.0M244.4,80.36h-2.0M32.7,59.38h2.0M244.4,59.38h-2.0M32.7,38.4h2.0M244.4,38.4h-2.0M32.7,17.41h2.0M244.4,17.41h-2.0" stroke="#858585" stroke-width="0.8" fill="none"/>
<rect x="32.7" y="6.4" width="211.7" height="166.85" stroke="#858585" stroke-width="1.2" fill="none"/>
<text x="32.7" y="183.75" font-size="7.8" text-anchor="middle">-100</text>
<text x="85.62" y="183.75" font-size="7.8" text-anchor="middle">-50</text>
<text x="138.55" y="183.75" font-size="7.8" text-anchor="middle">0</text>
<text x="191.47" y="183.75" font-size="7.8" text-anchor="middle">50</text>
<text x="244.4" y="183.75" font-size="7.8" text-anchor="middle">100</text>
<text x="29.7" y="166.08" font-size="7.8" text-anchor="end">-20</text>
<text x="29.7" y="145.1" font-size="7.8" text-anchor="end">0</text>
<text x="29.7" y="124.12" font-size="7.8" text-anchor="end">20</text>
<text x="29.7" y="103.14" font-size="7.8" text-anchor="end">40</text>
<text x="29.7" y="82.16" font-size="7.8" text-anchor="end">60</text>
<text x="29.7" y="61.18" font-size="7.8" text-anchor="end">80</text>
<text x="29.7" y="40.2" font-size="7.8" text-anchor="end">100</text>
<text x="29.7" y="19.21" font-size="7.8" text-anchor="end">120</text>
<path d="M324.5,173.35v-2.0M324.5,6.3v2.0M355.39,173.35v-2.0M355.39,6.3v2.0M386.29,173.35v-2.0M386.29,6.3v2.0M417.18,173.35v-2.0M417.18,6.3v2.0M448.07,173.35v-2.0M448.07,6.3v2.0M478.96,173.35v-2.0M478.96,6.3v2.0M509.86,173.35v-2.0M509.86,6.3v2.0M540.75,173.35v-2.0M540.75,6.3v2.0M324.5,173.35h2.0M540.75,173.35h-2.0M324.5,145.51h2.0M540.75,145.51h-2.0M324.5,117.67h2.0M540.75,117.67h-2.0M324.5,89.83h2.0M540.75,89.83h-2.0M324.5,61.98h2.0M540.75,61.98h-2.0M324.5,34.14h2.0M540.75,34.14h-2.0M324.5,6.3h2.0M540.75,6.3h-2.0" stroke="#858585" stroke-width="0.8" fill="none"/>
<rect x="324.5" y="6.3" width="216.25" height="167.05" stroke="#858585" stroke-width="1.2" fill="none"/>
<text x="324.5" y="183.85" font-size="7.8" text-anchor="middle">0</text>
<text x="355.39" y="183.85" font-size="7.8" text-anchor="middle">50</text>
<text x="386.29" y="183.85" font-size="7.8" text-anchor="middle">100</text>
<text x="417.18" y="183.85" font-size="7.8" text-anchor="middle">150</text>
<text x="448.07" y="183.85" font-size="7.8" text-anchor="middle">200</text>
<text x="478.96" y="183.85" font-size="7.8" text-anchor="middle">250</text>
<text x="509.86" y="183.85" font-size="7.8" text-anchor="middle">300</text>
<text x="540.75" y="183.85" font-size="7.8" text-anchor="middle">350</text>
<text x="321.5" y="175.15" font-size="7.8" text-anchor="end">0</text>
<text x="321.5" y="147.31" font-size="7.8" text-anchor="end">0.5</text>
<text x="321.5" y="119.47" font-size="7.8" text-anchor="end">1</text>
<text x="321.5" y="91.62" font-size="7.8" text-anchor="end">1.5</text>
<text x="321.5" y="63.78" font-size="7.8" text-anchor="end">2</text>
<text x="321.5" y="35.94" font-size="7.8" text-anchor="end">2.5</text>
<text x="321.5" y="8.1" font-size="7.8" text-anchor="end">3</text>
<path d="M30.6,407.25v-2.0M30.6,240.3v2.0M61.5,407.25v-2.0M61.5,240.3v2.0M92.4,407.25v-2.0M92.4,240.3v2.0M123.3,407.25v-2.0M123.3,240.3v2.0M154.2,407.25v-2.0M154.2,240.3v2.0M185.1,407.25v-2.0M185.1,240.3v2.0M216,407.25v-2.0M216,240.3v2.0M246.9,407.25v-2.0M246.9,240.3v2.0M30.6,407.25h2.0M246.9,407.25h-2.0M30.6,379.43h2.0M246.9,379.43h-2.0M30.6,351.6h2.0M246.9,351.6h-2.0M30.6,323.77h2.0M246.9,323.77h-2.0M30.6,295.95h2.0M246.9,295.95h-2.0M30.6,268.12h2.0M246.9,268.12h-2.0M30.6,240.3h2.0M246.9,240.3h-2.0" stroke="#858585" stroke-width="0.8" fill="none"/>
<rect x="30.6" y="240.3" width="216.3" height="166.95" stroke="#858585" stroke-width="1.2" fill="none"/>
<text x="30.6" y="417.75" font-size="7.8" text-anchor="middle">0</text>
<text x="61.5" y="417.75" font-size="7.8" text-anchor="middle">50</text>
<text x="92.4" y="417.75" font-size="7.8" text-anchor="middle">100</text>
<text x="123.3" y="417.75" font-size="7.8" text-anchor="middle">150</text>
<text x="154.2" y="417.75" font-size="7.8" text-anchor="middle">200</text>
<text x="185.1" y="417.75" font-size="7.8" text-anchor="middle">250</text>
<text x="216" y="417.75" font-size="7.8" text-anchor="middle">300</text>
<text x="246.9" y="417.75" font-size="7.8" text-anchor="middle">350</text>
<text x="27.6" y="409.05" font-size="7.8" text-anchor="end">0</text>
<text x="27.6" y="381.23" font-size="7.8" text-anchor="end">1</text>
<text x="27.6" y="353.4" font-size="7.8" text-anchor="end">2</text>
<text x="27.6" y="325.57" font-size="7.8" text-anchor="end">3</text>
<text x="27.6" y="297.75" font-size="7.8" text-anchor="end">4</text>
<text x="27.6" y="269.93" font-size="7.8" text-anchor="end">5</text>
<text x="27.6" y="242.1" font-size="7.8" text-anchor="end">6</text>
<path d="M324.6,407.2v-2.0M324.6,240.1v2.0M355.47,407.2v-2.0M355.47,240.1v2.0M386.34,407.2v-2.0M386.34,240.1v2.0M417.21,407.2v-2.0M417.21,240.1v2.0M448.09,407.2v-2.0M448.09,240.1v2.0M478.96,407.2v-2.0M478.96,240.1v2.0M509.83,407.2v-2.0M509.83,240.1v2.0M540.7,407.2v-2.0M540.7,240.1v2.0M324.6,407.2h2.0M540.7,407.2h-2.0M324.6,373.78h2.0M540.7,373.78h-2.0M324.6,340.36h2.0M540.7,340.36h-2.0M324.6,306.94h2.0M540.7,306.94h-2.0M324.6,273.52h2.0M540.7,273.52h-2.0M324.6,240.1h2.0M540.7,240.1h-2.0" stroke="#858585" stroke-width="0.8" fill="none"/>
<rect x="324.6" y="240.1" width="216.1" height="167.1" stroke="#858585" stroke-width="1.2" fill="none"/>
<text x="324.6" y="417.7" font-size="7.8" text-anchor="middle">0</text>
<text x="355.47" y="417.7" font-size="7.8" text-anchor="middle">50</text>
<text x="386.34" y="417.7" font-size="7.8" text-anchor="middle">100</text>
<text x="417.21" y="417.7" font-size="7.8" text-anchor="middle">150</text>
<text x="448.09" y="417.7" font-size="7.8" text-anchor="middle">200</text>
<text x="478.96" y="417.7" font-size="7.8" text-anchor="middle">250</text>
<text x="509.83" y="417.7" font-size="7.8" text-anchor="middle">300</text>
<text x="540.7" y="417.7" font-size="7.8" text-anchor="middle">350</text>
<text x="321.6" y="409" font-size="7.8" text-anchor="end">0</text>
<text x="321.6" y="375.58" font-size="7.8" text-anchor="end">1</text>
<text x="321.6" y="342.16" font-size="7.8" text-anchor="end">2</text>
<text x="321.6" y="308.74" font-size="7.8" text-anchor="end">3</text>
<text x="321.6" y="275.32" font-size="7.8" text-anchor="end">4</text>
<text x="321.6" y="241.9" font-size="7.8" text-anchor="end">5</text>
<text x="138.7" y="195.7" font-size="9" text-anchor="middle">X(m)</text>
<text x="432.5" y="195.7" font-size="9" text-anchor="middle" textLength="29" lengthAdjust="spacingAndGlyphs">Time(s)</text>
<text x="138.8" y="430.2" font-size="9" text-anchor="middle" textLength="29" lengthAdjust="spacingAndGlyphs">Time(s)</text>
<text x="432.7" y="430.4" font-size="9" text-anchor="middle" textLength="29" lengthAdjust="spacingAndGlyphs">Time(s)</text>
<text x="0" y="0" font-size="9" text-anchor="middle" transform="translate(11.1,89.8) rotate(-90)">Y(m)</text>
<text x="0" y="0" font-size="9" text-anchor="middle" textLength="38" lengthAdjust="spacingAndGlyphs" transform="translate(305.2,89.2) rotate(-90)">Errors(m)</text>
<text x="0" y="0" font-size="9" text-anchor="middle" textLength="57.5" lengthAdjust="spacingAndGlyphs" transform="translate(17.2,323.9) rotate(-90)">Velocity(rad/s)</text>
<text x="0" y="0" font-size="9" text-anchor="middle" textLength="57" lengthAdjust="spacingAndGlyphs" transform="translate(311.6,324.2) rotate(-90)">Velocity(rad/s)</text>
<rect x="177.4" y="11.6" width="62.3" height="33.2" fill="#fff" stroke="#858585" stroke-width="0.9"/>
<path d="M179.2,17.5H198.8" stroke="#000" stroke-width="1.3"/>
<text x="200.6" y="20.2" font-size="7.6" text-anchor="start" textLength="24.6" lengthAdjust="spacingAndGlyphs">Desired</text>
<path d="M179.2,28.4H198.8" stroke="#0000ff" stroke-width="1.4" stroke-dasharray="3,2.4"/>
<text x="200.6" y="31.1" font-size="7.6" text-anchor="start" textLength="29.6" lengthAdjust="spacingAndGlyphs">Proposed</text>
<path d="M179.2,38.8H198.8" stroke="#ff8890" stroke-width="2.4"/>
<text x="200.6" y="41.5" font-size="7.6" text-anchor="start" textLength="35.8" lengthAdjust="spacingAndGlyphs">LMPC+PID</text>
<rect x="473.4" y="11.4" width="62.1" height="23.1" fill="#fff" stroke="#858585" stroke-width="0.9"/>
<path d="M475.3,17.6H494.8" stroke="#0000ff" stroke-width="1.3" stroke-dasharray="3,2.4"/>
<text x="497.1" y="20.3" font-size="7.6" text-anchor="start" textLength="29.6" lengthAdjust="spacingAndGlyphs">Proposed</text>
<path d="M475.3,28.4H494.8" stroke="#ff4048" stroke-width="1.1"/>
<text x="497.1" y="31.1" font-size="7.6" text-anchor="start" textLength="35.8" lengthAdjust="spacingAndGlyphs">LMPC+PID</text>
<rect x="179.6" y="245.4" width="62.2" height="22.9" fill="#fff" stroke="#858585" stroke-width="0.9"/>
<path d="M181.5,251.4H201" stroke="#0000ff" stroke-width="1.3" stroke-dasharray="3,2.4"/>
<text x="203.5" y="254.1" font-size="7.6" text-anchor="start" textLength="29.6" lengthAdjust="spacingAndGlyphs">Proposed</text>
<path d="M181.5,262.3H201" stroke="#ff4048" stroke-width="1.1"/>
<text x="203.5" y="265" font-size="7.6" text-anchor="start" textLength="35.8" lengthAdjust="spacingAndGlyphs">LMPC+PID</text>
<rect x="473.5" y="245.4" width="62.1" height="22.9" fill="#fff" stroke="#858585" stroke-width="0.9"/>
<path d="M475.4,251.4H494.9" stroke="#0000ff" stroke-width="1.3" stroke-dasharray="3,2.4"/>
<text x="497.2" y="254.1" font-size="7.6" text-anchor="start" textLength="29.6" lengthAdjust="spacingAndGlyphs">Proposed</text>
<path d="M475.4,262.3H494.9" stroke="#ff4048" stroke-width="1.1"/>
<text x="497.2" y="265" font-size="7.6" text-anchor="start" textLength="35.8" lengthAdjust="spacingAndGlyphs">LMPC+PID</text>
<text x="134" y="220.1" font-size="12" text-anchor="middle">(<tspan font-weight="bold">a</tspan>)</text>
<text x="427.6" y="220.1" font-size="12" text-anchor="middle">(<tspan font-weight="bold">b</tspan>)</text>
<text x="134" y="460.4" font-size="12" text-anchor="middle">(<tspan font-weight="bold">c</tspan>)</text>
<text x="427.7" y="460.4" font-size="12" text-anchor="middle">(<tspan font-weight="bold">d</tspan>)</text>
</svg></body></html>
